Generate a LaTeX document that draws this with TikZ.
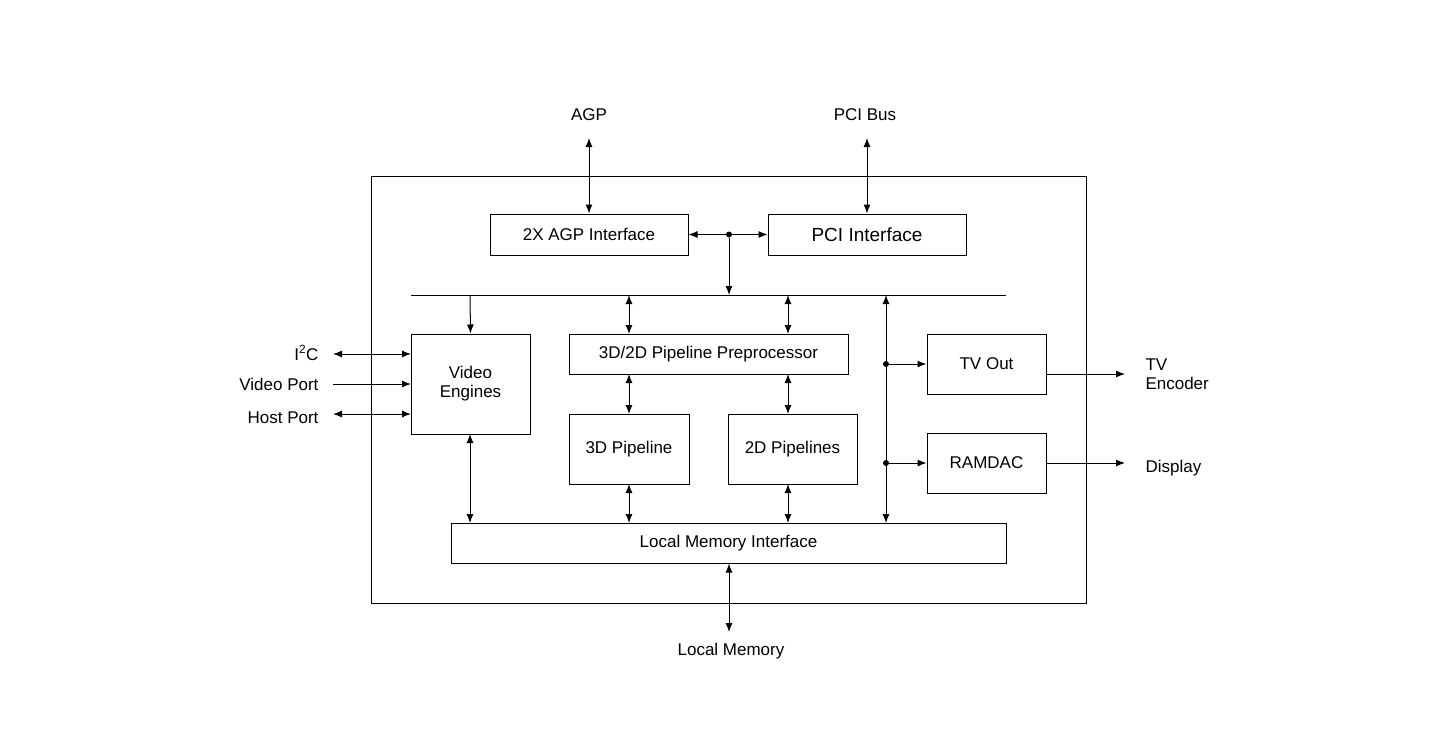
\documentclass[tikz,border=0pt]{standalone}
\usepackage{fontspec}
\setmainfont{Liberation Sans}
\usetikzlibrary{arrows.meta}
\begin{document}
\begin{tikzpicture}[x=1pt,y=-1pt,
  box/.style={draw,line width=1pt,inner sep=0pt},
  lbl/.style={font=\fontsize{17}{19}\selectfont},
  ln/.style={line width=1pt},
  sa/.style={ln,-{Latex[length=9pt,width=7pt]}},
  da/.style={ln,{Latex[length=9pt,width=7pt]}-{Latex[length=9pt,width=7pt]}},
  dot/.style={circle,fill,inner sep=0pt,minimum size=6pt}]
\useasboundingbox (0,0) rectangle (1440,748);
\fill[white] (0,0) rectangle (1440,748);
\draw[ln] (371,176) rectangle (1086,603);
\node[box,minimum width=198pt,minimum height=41pt,lbl] (agpi) at (589,234.5) {2X AGP Interface};
\node[box,minimum width=198pt,minimum height=41pt,font=\fontsize{19}{21}\selectfont] (pcii) at (867,234.5) {PCI Interface};
\node[lbl] (agp) at (589,115) {AGP};
\node[lbl] (pci) at (865,115) {PCI Bus};
\coordinate (agpt) at (589,138);
\coordinate (pcit) at (867,138);
\draw[da] (agpt) -- (agpi.north);
\draw[da] (pcit) -- (pcii.north);
\draw[da] (agpi.east) -- (pcii.west);
\node[dot] (d0) at (729,234.5) {};
\coordinate (busL) at (411,295);
\coordinate (busR) at (1006,295);
\draw[ln] (busL) -- (busR);
\draw[sa] (d0) -- (729,295);
\node[box,minimum width=119pt,minimum height=100pt,lbl,align=center] (ve) at (470.5,384) {Video\\Engines};
\node[box,minimum width=279pt,minimum height=40pt,lbl] (pp) at (708.5,354) {3D/2D Pipeline Preprocessor};
\node[box,minimum width=120pt,minimum height=70pt,lbl] (p3) at (629,449) {3D Pipeline};
\node[box,minimum width=129pt,minimum height=70pt,lbl] (p2) at (792.5,449) {2D Pipelines};
\node[box,minimum width=555pt,minimum height=40pt,lbl] (lmi) at (728.5,543) {Local Memory Interface};
\node[box,minimum width=119pt,minimum height=60pt,lbl] (tv) at (986.5,364) {TV Out};
\node[box,minimum width=119pt,minimum height=60pt,lbl] (ram) at (986.5,463) {RAMDAC};
\draw[sa] (470,295) -- (ve.north);
\draw[da] (629,295) -- (629,334);
\draw[da] (788,295) -- (788,334);
\draw[da] (629,374) -- (629,414);
\draw[da] (788,374) -- (788,414);
\draw[da] (470,434) -- (470,523);
\draw[da] (629,484) -- (629,523);
\draw[da] (788,484) -- (788,523);
\draw[da] (886,295) -- (886,523);
\node[dot] (d1) at (886,364) {};
\node[dot] (d2) at (886,463) {};
\draw[sa] (d1) -- (tv.west);
\draw[sa] (d2) -- (ram.west);
\coordinate (tve) at (1125,374);
\coordinate (dpe) at (1125,463);
\draw[sa] (1046,374) -- (tve);
\draw[sa] (ram.east) -- (dpe);
\node[lbl,align=left,anchor=west] (tvl) at (1142,374) {TV\\Encoder};
\node[lbl,anchor=west] (dpl) at (1142,468) {Display};
\coordinate (i2) at (333,354);
\coordinate (vp) at (333,384);
\coordinate (hp) at (333,414);
\draw[da] (i2) -- (411,354);
\draw[sa] (vp) -- (411,384);
\draw[da] (hp) -- (411,414);
\node[lbl,anchor=east] (i2l) at (322,353) {I\textsuperscript{2}C};
\node[lbl,anchor=east] (vpl) at (322,384) {Video Port};
\node[lbl,anchor=east] (hpl) at (322,418) {Host Port};
\coordinate (lmb) at (729,632);
\draw[da] (lmi.south -| lmb) -- (lmb);
\node[lbl] (lm) at (731,651) {Local Memory};
\end{tikzpicture}
\end{document}
